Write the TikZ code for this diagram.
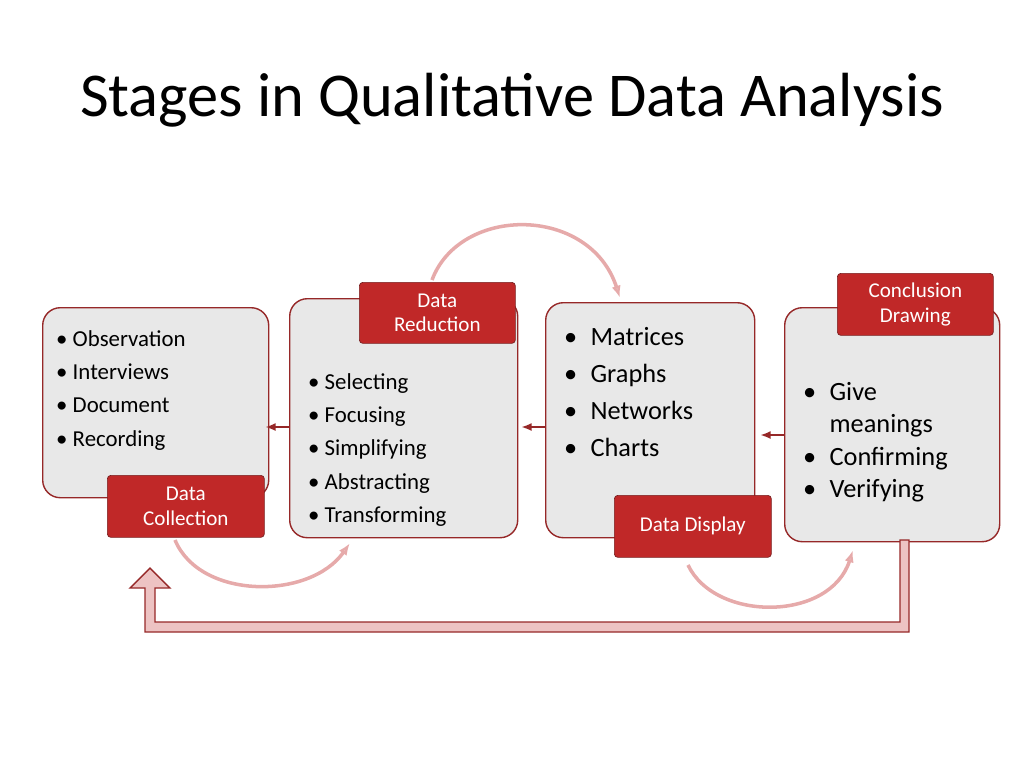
\documentclass[tikz,border=0pt]{standalone}
\usepackage{fontspec}
\setmainfont{Carlito}
\usetikzlibrary{positioning,arrows.meta}
\definecolor{boxred}{RGB}{192,40,40}
\definecolor{edgered}{RGB}{150,40,40}
\definecolor{arcpink}{RGB}{230,170,170}
\tikzset{
  stagebox/.style={draw=edgered, fill=gray!18, rounded corners=10pt, line width=0.8pt, anchor=north west},
  tagbox/.style={draw=edgered!80!black, fill=boxred, text=white, rounded corners=2pt, font=\fontsize{12}{14}\selectfont, align=center, anchor=north west},
  bullets/.style={align=left, anchor=north west},
  stepline/.style={-{Latex[length=6pt]}, edgered, line width=1.2pt},
  arcarrow/.style={-{Latex[length=7pt,open]}, arcpink, line width=2pt}
}
\begin{document}
\begin{tikzpicture}[x=0.02cm, y=-0.02cm]
	\useasboundingbox (0,0) rectangle (1024,768);
	\node (title) at (512,100) {\fontsize{35.5}{42}\selectfont Stages in Qualitative Data Analysis};

	%stage boxes
	\node[stagebox, minimum width=226*0.02cm, minimum height=190*0.02cm] (s1) at (42,307) {};
	\node[stagebox, minimum width=228*0.02cm, minimum height=239*0.02cm] (s2) at (289,298) {};
	\node[stagebox, minimum width=209*0.02cm, minimum height=235*0.02cm] (s3) at (545,302) {};
	\node[stagebox, minimum width=215*0.02cm, minimum height=234*0.02cm] (s4) at (784,307) {};

	%bullet lists
	\node[bullets, font=\fontsize{13}{19}\selectfont] (l1) at (50,324) {• Observation\\• Interviews\\• Document\\• Recording};
	\node[bullets, font=\fontsize{13}{19}\selectfont] (l2) at (302,367) {• Selecting\\• Focusing\\• Simplifying\\• Abstracting\\• Transforming};
	\node[bullets, font=\fontsize{15}{21}\selectfont] (l3) at (558,321) {•\; Matrices\\•\; Graphs\\•\; Networks\\•\; Charts};
	\node[bullets, font=\fontsize{15}{18.5}\selectfont] (l4) at (797,376) {•\; Give\\\phantom{•\;} meanings\\•\; Confirming\\•\; Verifying};

	%stage labels
	\node[tagbox, minimum width=157*0.02cm, minimum height=62*0.02cm] (t1) at (107,475) {Data\\Collection};
	\node[tagbox, minimum width=156*0.02cm, minimum height=61*0.02cm] (t2) at (359,282) {Data\\Reduction};
	\node[tagbox, minimum width=157*0.02cm, minimum height=62*0.02cm] (t3) at (614,495) {Data Display};
	\node[tagbox, minimum width=156*0.02cm, minimum height=62*0.02cm] (t4) at (837,273) {Conclusion\\Drawing};

	%step arrows
	\draw[stepline] (s2.west |- 0,427) -- ++(-24,0);
	\draw[stepline] (s3.west |- 0,427) -- ++(-24,0);
	\draw[stepline] (s4.west |- 0,435) -- ++(-24,0);

	%curved arrows
	\coordinate (a1) at (175,540); \coordinate (b1) at (350,543);
	\coordinate (a2) at (432,280); \coordinate (b2) at (620,298);
	\coordinate (a3) at (688,565); \coordinate (b3) at (853,550);
	\draw[arcarrow] (a1) .. controls (200,600) and (310,600) .. (b1);
	\draw[arcarrow] (a2) .. controls (460,205) and (590,205) .. (b2);
	\draw[arcarrow] (a3) .. controls (715,622) and (830,622) .. (b3);

	%feedback arrow
	\draw[edgered, fill=arcpink!70, line width=0.8pt] (900,540) -- (909,540) -- (909,632) -- (145,632) -- (145,588) -- (130,588) -- (150,568) -- (170,588) -- (155,588) -- (155,622) -- (900,622) -- cycle;
\end{tikzpicture}
\end{document}
